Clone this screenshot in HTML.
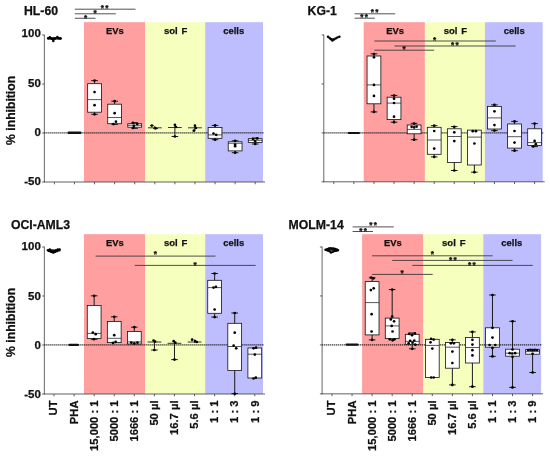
<!DOCTYPE html>
<html lang="en"><head><meta charset="utf-8"><title>% inhibition box plots</title>
<style>html,body{margin:0;padding:0;background:#fff}svg{display:block}text{font-family:"Liberation Sans",sans-serif;fill:#111;stroke:#111;stroke-width:0.25px}</style></head><body>
<svg width="550" height="456" viewBox="0 0 550 456">
<rect width="550" height="456" fill="#fff"/>
<g id="p1">
<rect x="84" y="22.2" width="61.2" height="159.8" fill="#ff9f9f"/>
<rect x="145.2" y="22.2" width="60" height="159.8" fill="#f6ffbd"/>
<rect x="205.2" y="22.2" width="57.8" height="159.8" fill="#bebeff"/>
<text x="114.8" y="34.4" font-size="9.4" font-weight="bold" text-anchor="middle">EVs</text>
<text x="175.7" y="34.4" font-size="9.5" font-weight="bold" text-anchor="middle" word-spacing="1.3">sol F</text>
<text x="233.7" y="34.4" font-size="9.4" font-weight="bold" text-anchor="middle">cells</text>
<line x1="44.35" y1="34.65" x2="44.35" y2="182.35" stroke="#333" stroke-width="0.75"/>
<line x1="44" y1="182" x2="265" y2="182" stroke="#444" stroke-width="0.85"/>
<line x1="42.15" y1="35" x2="44.35" y2="35" stroke="#444" stroke-width="0.85"/>
<line x1="42.15" y1="84" x2="44.35" y2="84" stroke="#444" stroke-width="0.85"/>
<line x1="42.15" y1="133" x2="44.35" y2="133" stroke="#444" stroke-width="0.85"/>
<line x1="42.15" y1="182" x2="44.35" y2="182" stroke="#444" stroke-width="0.85"/>
<line x1="54.4" y1="182" x2="54.4" y2="184.3" stroke="#444" stroke-width="0.85"/>
<line x1="74.48" y1="182" x2="74.48" y2="184.3" stroke="#444" stroke-width="0.85"/>
<line x1="94.56" y1="182" x2="94.56" y2="184.3" stroke="#444" stroke-width="0.85"/>
<line x1="114.64" y1="182" x2="114.64" y2="184.3" stroke="#444" stroke-width="0.85"/>
<line x1="134.72" y1="182" x2="134.72" y2="184.3" stroke="#444" stroke-width="0.85"/>
<line x1="154.8" y1="182" x2="154.8" y2="184.3" stroke="#444" stroke-width="0.85"/>
<line x1="174.88" y1="182" x2="174.88" y2="184.3" stroke="#444" stroke-width="0.85"/>
<line x1="194.96" y1="182" x2="194.96" y2="184.3" stroke="#444" stroke-width="0.85"/>
<line x1="215.04" y1="182" x2="215.04" y2="184.3" stroke="#444" stroke-width="0.85"/>
<line x1="235.12" y1="182" x2="235.12" y2="184.3" stroke="#444" stroke-width="0.85"/>
<line x1="255.2" y1="182" x2="255.2" y2="184.3" stroke="#444" stroke-width="0.85"/>
<line x1="44.35" y1="132.9" x2="264" y2="132.9" stroke="#000" stroke-width="1.25" stroke-opacity="0.28"/>
<line x1="44.35" y1="132.9" x2="264" y2="132.9" stroke="#000" stroke-width="1.25" stroke-opacity="0.62" stroke-dasharray="1 1" stroke-dashoffset="0.1"/>
<text x="24" y="14.8" font-size="12.25" font-weight="bold" text-anchor="start">HL-60</text>
<text x="40.8" y="37.25" font-size="11.5" font-weight="bold" text-anchor="end">100</text>
<text x="40.8" y="87.05" font-size="11.5" font-weight="bold" text-anchor="end">50</text>
<text x="40.8" y="135.85" font-size="11.5" font-weight="bold" text-anchor="end">0</text>
<text x="40.8" y="184.7" font-size="11.5" font-weight="bold" text-anchor="end">-50</text>
<text x="15.1" y="110.4" font-size="12.2" font-weight="bold" text-anchor="middle" transform="rotate(-90 15.1 110.4)">% inhibition</text>
<line x1="74.8" y1="9.2" x2="135.5" y2="9.2" stroke="#333" stroke-width="0.85"/>
<text x="105.35" y="10.99" font-size="8.2" font-weight="bold" text-anchor="middle" letter-spacing="1.3" stroke-width="0.1">**</text>
<line x1="74.8" y1="13.8" x2="115.8" y2="13.8" stroke="#333" stroke-width="0.85"/>
<text x="95.75" y="15.99" font-size="8.2" font-weight="bold" text-anchor="middle" letter-spacing="1.3" stroke-width="0.1">*</text>
<line x1="74.8" y1="18.25" x2="95.5" y2="18.25" stroke="#333" stroke-width="0.85"/>
<text x="86.15" y="20.79" font-size="8.2" font-weight="bold" text-anchor="middle" letter-spacing="1.3" stroke-width="0.1">*</text>
<line x1="47.6" y1="38.4" x2="61.2" y2="38.4" stroke="#111" stroke-width="2.4"/>
<circle cx="48.2" cy="38.2" r="1.25" fill="#000"/>
<circle cx="49.8" cy="37.3" r="1.25" fill="#000"/>
<circle cx="51.5" cy="38.7" r="1.25" fill="#000"/>
<circle cx="53.3" cy="39.6" r="1.25" fill="#000"/>
<circle cx="53.3" cy="40.9" r="1.25" fill="#000"/>
<circle cx="55" cy="38.4" r="1.25" fill="#000"/>
<circle cx="57.4" cy="37.1" r="1.25" fill="#000"/>
<circle cx="59" cy="38.2" r="1.25" fill="#000"/>
<circle cx="60.6" cy="38.5" r="1.25" fill="#000"/>
<line x1="68.7" y1="132.8" x2="80.3" y2="132.8" stroke="#111" stroke-width="2.4" stroke-linecap="round"/>
<line x1="94.56" y1="80.6" x2="94.56" y2="83.7" stroke="#111" stroke-width="0.95"/>
<line x1="91.26" y1="80.6" x2="97.86" y2="80.6" stroke="#111" stroke-width="0.95"/>
<line x1="94.56" y1="112.2" x2="94.56" y2="114.3" stroke="#111" stroke-width="0.95"/>
<line x1="91.26" y1="114.3" x2="97.86" y2="114.3" stroke="#111" stroke-width="0.95"/>
<rect x="87.66" y="83.7" width="13.8" height="28.5" fill="#fff" stroke="#111" stroke-width="0.8"/>
<line x1="87.66" y1="99.6" x2="101.46" y2="99.6" stroke="#222" stroke-width="0.75"/>
<circle cx="94.56" cy="80.6" r="1.35" fill="#000"/>
<circle cx="94.56" cy="92.1" r="1.35" fill="#000"/>
<circle cx="94.56" cy="105.2" r="1.35" fill="#000"/>
<circle cx="94.56" cy="114.3" r="1.35" fill="#000"/>
<line x1="114.64" y1="101.2" x2="114.64" y2="104.2" stroke="#111" stroke-width="0.95"/>
<line x1="111.34" y1="101.2" x2="117.94" y2="101.2" stroke="#111" stroke-width="0.95"/>
<line x1="114.64" y1="123.7" x2="114.64" y2="124.4" stroke="#111" stroke-width="0.95"/>
<line x1="111.34" y1="124.4" x2="117.94" y2="124.4" stroke="#111" stroke-width="0.95"/>
<rect x="107.74" y="104.2" width="13.8" height="19.5" fill="#fff" stroke="#111" stroke-width="0.8"/>
<line x1="107.74" y1="117.5" x2="121.54" y2="117.5" stroke="#222" stroke-width="0.75"/>
<circle cx="114.64" cy="101.2" r="1.35" fill="#000"/>
<circle cx="114.64" cy="113.2" r="1.35" fill="#000"/>
<circle cx="115.94" cy="121.7" r="1.35" fill="#000"/>
<circle cx="113.44" cy="124.1" r="1.35" fill="#000"/>
<line x1="134.72" y1="122.7" x2="134.72" y2="123.7" stroke="#111" stroke-width="0.95"/>
<line x1="131.42" y1="122.7" x2="138.02" y2="122.7" stroke="#111" stroke-width="0.95"/>
<line x1="134.72" y1="127.2" x2="134.72" y2="128.3" stroke="#111" stroke-width="0.95"/>
<line x1="131.42" y1="128.3" x2="138.02" y2="128.3" stroke="#111" stroke-width="0.95"/>
<rect x="127.82" y="123.7" width="13.8" height="3.5" fill="#fff" stroke="#111" stroke-width="0.8"/>
<line x1="127.82" y1="125.3" x2="141.62" y2="125.3" stroke="#222" stroke-width="0.75"/>
<circle cx="133.02" cy="122.9" r="1.35" fill="#000"/>
<circle cx="137.22" cy="124.1" r="1.35" fill="#000"/>
<circle cx="133.92" cy="125.8" r="1.35" fill="#000"/>
<circle cx="133.02" cy="128" r="1.35" fill="#000"/>
<line x1="147.9" y1="127.8" x2="161.7" y2="127.8" stroke="#222" stroke-width="0.9"/>
<line x1="154.8" y1="126" x2="154.8" y2="128.4" stroke="#111" stroke-width="0.95"/>
<circle cx="151.8" cy="125.6" r="1.35" fill="#000"/>
<circle cx="155.5" cy="128.4" r="1.35" fill="#000"/>
<line x1="150.2" y1="125.6" x2="153.8" y2="125.6" stroke="#111" stroke-width="0.95"/>
<line x1="153.2" y1="128.5" x2="158" y2="128.5" stroke="#111" stroke-width="0.95"/>
<line x1="167.98" y1="127.5" x2="181.78" y2="127.5" stroke="#222" stroke-width="0.9"/>
<line x1="174.88" y1="124.8" x2="174.88" y2="136.5" stroke="#111" stroke-width="0.95"/>
<line x1="171.58" y1="136.5" x2="178.18" y2="136.5" stroke="#111" stroke-width="0.95"/>
<circle cx="174.88" cy="124.8" r="1.35" fill="#000"/>
<circle cx="175.98" cy="127" r="1.35" fill="#000"/>
<circle cx="174.88" cy="136.5" r="1.35" fill="#000"/>
<line x1="188.06" y1="127.8" x2="201.86" y2="127.8" stroke="#222" stroke-width="0.9"/>
<line x1="194.96" y1="125.5" x2="194.96" y2="131" stroke="#111" stroke-width="0.95"/>
<circle cx="194.96" cy="125.7" r="1.35" fill="#000"/>
<circle cx="195.86" cy="128" r="1.35" fill="#000"/>
<circle cx="193.86" cy="130.7" r="1.35" fill="#000"/>
<line x1="215.04" y1="125.4" x2="215.04" y2="127.5" stroke="#111" stroke-width="0.95"/>
<line x1="211.74" y1="125.4" x2="218.34" y2="125.4" stroke="#111" stroke-width="0.95"/>
<line x1="215.04" y1="138.3" x2="215.04" y2="139.7" stroke="#111" stroke-width="0.95"/>
<line x1="211.74" y1="139.7" x2="218.34" y2="139.7" stroke="#111" stroke-width="0.95"/>
<rect x="208.14" y="127.5" width="13.8" height="10.8" fill="#fff" stroke="#111" stroke-width="0.8"/>
<line x1="208.14" y1="134.9" x2="221.94" y2="134.9" stroke="#222" stroke-width="0.75"/>
<circle cx="215.04" cy="125.4" r="1.35" fill="#000"/>
<circle cx="213.54" cy="133.5" r="1.35" fill="#000"/>
<circle cx="216.24" cy="134.8" r="1.35" fill="#000"/>
<circle cx="215.04" cy="139.7" r="1.35" fill="#000"/>
<line x1="235.12" y1="140.8" x2="235.12" y2="141.8" stroke="#111" stroke-width="0.95"/>
<line x1="231.82" y1="140.8" x2="238.42" y2="140.8" stroke="#111" stroke-width="0.95"/>
<line x1="235.12" y1="150.9" x2="235.12" y2="152.7" stroke="#111" stroke-width="0.95"/>
<line x1="231.82" y1="152.7" x2="238.42" y2="152.7" stroke="#111" stroke-width="0.95"/>
<rect x="228.22" y="141.8" width="13.8" height="9.1" fill="#fff" stroke="#111" stroke-width="0.8"/>
<line x1="228.22" y1="143.3" x2="242.02" y2="143.3" stroke="#222" stroke-width="0.75"/>
<circle cx="235.12" cy="140.8" r="1.35" fill="#000"/>
<circle cx="235.12" cy="144.6" r="1.35" fill="#000"/>
<circle cx="235.12" cy="146.2" r="1.35" fill="#000"/>
<circle cx="235.12" cy="152.7" r="1.35" fill="#000"/>
<line x1="255.2" y1="138" x2="255.2" y2="138.7" stroke="#111" stroke-width="0.95"/>
<line x1="251.9" y1="138" x2="258.5" y2="138" stroke="#111" stroke-width="0.95"/>
<line x1="255.2" y1="142.6" x2="255.2" y2="144" stroke="#111" stroke-width="0.95"/>
<line x1="251.9" y1="144" x2="258.5" y2="144" stroke="#111" stroke-width="0.95"/>
<rect x="248.3" y="138.7" width="13.8" height="3.9" fill="#fff" stroke="#111" stroke-width="0.8"/>
<line x1="248.3" y1="140.3" x2="262.1" y2="140.3" stroke="#222" stroke-width="0.75"/>
<circle cx="253.1" cy="139.1" r="1.35" fill="#000"/>
<circle cx="257.3" cy="138.4" r="1.35" fill="#000"/>
<circle cx="255.2" cy="141.2" r="1.35" fill="#000"/>
<circle cx="255.2" cy="144" r="1.35" fill="#000"/>
</g>
<g id="p2">
<rect x="363.7" y="22.2" width="61.2" height="159.6" fill="#ff9f9f"/>
<rect x="424.9" y="22.2" width="60" height="159.6" fill="#f6ffbd"/>
<rect x="484.9" y="22.2" width="57.8" height="159.6" fill="#bebeff"/>
<text x="395.1" y="34.4" font-size="9.4" font-weight="bold" text-anchor="middle">EVs</text>
<text x="455.4" y="34.4" font-size="9.5" font-weight="bold" text-anchor="middle" word-spacing="1.3">sol F</text>
<text x="514.2" y="34.4" font-size="9.4" font-weight="bold" text-anchor="middle">cells</text>
<line x1="323.8" y1="34.65" x2="323.8" y2="182.15" stroke="#333" stroke-width="0.75"/>
<line x1="323.45" y1="181.8" x2="544.7" y2="181.8" stroke="#444" stroke-width="0.85"/>
<line x1="321.6" y1="35" x2="323.8" y2="35" stroke="#444" stroke-width="0.85"/>
<line x1="321.6" y1="83.93" x2="323.8" y2="83.93" stroke="#444" stroke-width="0.85"/>
<line x1="321.6" y1="132.87" x2="323.8" y2="132.87" stroke="#444" stroke-width="0.85"/>
<line x1="321.6" y1="181.8" x2="323.8" y2="181.8" stroke="#444" stroke-width="0.85"/>
<line x1="333.8" y1="181.8" x2="333.8" y2="184.1" stroke="#444" stroke-width="0.85"/>
<line x1="353.88" y1="181.8" x2="353.88" y2="184.1" stroke="#444" stroke-width="0.85"/>
<line x1="373.96" y1="181.8" x2="373.96" y2="184.1" stroke="#444" stroke-width="0.85"/>
<line x1="394.04" y1="181.8" x2="394.04" y2="184.1" stroke="#444" stroke-width="0.85"/>
<line x1="414.12" y1="181.8" x2="414.12" y2="184.1" stroke="#444" stroke-width="0.85"/>
<line x1="434.2" y1="181.8" x2="434.2" y2="184.1" stroke="#444" stroke-width="0.85"/>
<line x1="454.28" y1="181.8" x2="454.28" y2="184.1" stroke="#444" stroke-width="0.85"/>
<line x1="474.36" y1="181.8" x2="474.36" y2="184.1" stroke="#444" stroke-width="0.85"/>
<line x1="494.44" y1="181.8" x2="494.44" y2="184.1" stroke="#444" stroke-width="0.85"/>
<line x1="514.52" y1="181.8" x2="514.52" y2="184.1" stroke="#444" stroke-width="0.85"/>
<line x1="534.6" y1="181.8" x2="534.6" y2="184.1" stroke="#444" stroke-width="0.85"/>
<line x1="323.8" y1="132.9" x2="543.7" y2="132.9" stroke="#000" stroke-width="1.25" stroke-opacity="0.28"/>
<line x1="323.8" y1="132.9" x2="543.7" y2="132.9" stroke="#000" stroke-width="1.25" stroke-opacity="0.62" stroke-dasharray="1 1" stroke-dashoffset="0.1"/>
<text x="307.6" y="14.8" font-size="12.25" font-weight="bold" text-anchor="start">KG-1</text>
<line x1="354.6" y1="13.8" x2="395.2" y2="13.8" stroke="#333" stroke-width="0.85"/>
<text x="375.35" y="15.49" font-size="8.2" font-weight="bold" text-anchor="middle" letter-spacing="1.3" stroke-width="0.1">**</text>
<line x1="354.6" y1="18.2" x2="374.8" y2="18.2" stroke="#333" stroke-width="0.85"/>
<text x="364.75" y="19.89" font-size="8.2" font-weight="bold" text-anchor="middle" letter-spacing="1.3" stroke-width="0.1">**</text>
<line x1="374.3" y1="41" x2="495.8" y2="41" stroke="#333" stroke-width="0.85"/>
<text x="435.35" y="42.79" font-size="8.2" font-weight="bold" text-anchor="middle" letter-spacing="1.3" stroke-width="0.1">*</text>
<line x1="394.5" y1="46" x2="515.6" y2="46" stroke="#333" stroke-width="0.85"/>
<text x="455.55" y="47.79" font-size="8.2" font-weight="bold" text-anchor="middle" letter-spacing="1.3" stroke-width="0.1">**</text>
<line x1="374.3" y1="50.2" x2="434.2" y2="50.2" stroke="#333" stroke-width="0.85"/>
<text x="404.65" y="52.49" font-size="8.2" font-weight="bold" text-anchor="middle" letter-spacing="1.3" stroke-width="0.1">*</text>
<line x1="330.8" y1="38.6" x2="334.2" y2="38.6" stroke="#111" stroke-width="0.8"/>
<circle cx="328" cy="36.7" r="1.25" fill="#000"/>
<circle cx="329.6" cy="37.9" r="1.25" fill="#000"/>
<circle cx="331" cy="39.2" r="1.25" fill="#000"/>
<circle cx="332.4" cy="40.6" r="1.25" fill="#000"/>
<circle cx="333.9" cy="39.6" r="1.25" fill="#000"/>
<circle cx="335.6" cy="38.6" r="1.25" fill="#000"/>
<circle cx="337.4" cy="37.6" r="1.25" fill="#000"/>
<circle cx="339.4" cy="36.7" r="1.25" fill="#000"/>
<line x1="348.7" y1="133" x2="358.9" y2="133" stroke="#111" stroke-width="2.2" stroke-linecap="round"/>
<line x1="373.96" y1="53.8" x2="373.96" y2="56" stroke="#111" stroke-width="0.95"/>
<line x1="370.66" y1="53.8" x2="377.26" y2="53.8" stroke="#111" stroke-width="0.95"/>
<line x1="373.96" y1="103.8" x2="373.96" y2="111.9" stroke="#111" stroke-width="0.95"/>
<line x1="370.66" y1="111.9" x2="377.26" y2="111.9" stroke="#111" stroke-width="0.95"/>
<rect x="367.06" y="56" width="13.8" height="47.8" fill="#fff" stroke="#111" stroke-width="0.8"/>
<line x1="367.06" y1="84.9" x2="380.86" y2="84.9" stroke="#222" stroke-width="0.75"/>
<circle cx="373.96" cy="54" r="1.35" fill="#000"/>
<circle cx="373.96" cy="57.3" r="1.35" fill="#000"/>
<circle cx="373.96" cy="84.9" r="1.35" fill="#000"/>
<circle cx="373.96" cy="95.9" r="1.35" fill="#000"/>
<circle cx="373.96" cy="111.9" r="1.35" fill="#000"/>
<line x1="394.04" y1="95.4" x2="394.04" y2="97.2" stroke="#111" stroke-width="0.95"/>
<line x1="390.74" y1="95.4" x2="397.34" y2="95.4" stroke="#111" stroke-width="0.95"/>
<line x1="394.04" y1="119.6" x2="394.04" y2="122.2" stroke="#111" stroke-width="0.95"/>
<line x1="390.74" y1="122.2" x2="397.34" y2="122.2" stroke="#111" stroke-width="0.95"/>
<rect x="387.14" y="97.2" width="13.8" height="22.4" fill="#fff" stroke="#111" stroke-width="0.8"/>
<line x1="387.14" y1="103.1" x2="400.94" y2="103.1" stroke="#222" stroke-width="0.75"/>
<circle cx="394.04" cy="95.5" r="1.35" fill="#000"/>
<circle cx="394.04" cy="98.7" r="1.35" fill="#000"/>
<circle cx="394.04" cy="103" r="1.35" fill="#000"/>
<circle cx="394.04" cy="116.7" r="1.35" fill="#000"/>
<circle cx="394.04" cy="122.2" r="1.35" fill="#000"/>
<line x1="414.12" y1="123.3" x2="414.12" y2="125" stroke="#111" stroke-width="0.95"/>
<line x1="410.82" y1="123.3" x2="417.42" y2="123.3" stroke="#111" stroke-width="0.95"/>
<line x1="414.12" y1="133.8" x2="414.12" y2="139.7" stroke="#111" stroke-width="0.95"/>
<line x1="410.82" y1="139.7" x2="417.42" y2="139.7" stroke="#111" stroke-width="0.95"/>
<rect x="407.22" y="125" width="13.8" height="8.8" fill="#fff" stroke="#111" stroke-width="0.8"/>
<line x1="407.22" y1="129.4" x2="421.02" y2="129.4" stroke="#222" stroke-width="0.75"/>
<circle cx="414.12" cy="123.5" r="1.35" fill="#000"/>
<circle cx="411.62" cy="126.8" r="1.35" fill="#000"/>
<circle cx="414.12" cy="127.4" r="1.35" fill="#000"/>
<circle cx="416.62" cy="126.6" r="1.35" fill="#000"/>
<circle cx="414.12" cy="139.7" r="1.35" fill="#000"/>
<line x1="434.2" y1="125.7" x2="434.2" y2="127.3" stroke="#111" stroke-width="0.95"/>
<line x1="430.9" y1="125.7" x2="437.5" y2="125.7" stroke="#111" stroke-width="0.95"/>
<line x1="434.2" y1="154.3" x2="434.2" y2="156.9" stroke="#111" stroke-width="0.95"/>
<line x1="430.9" y1="156.9" x2="437.5" y2="156.9" stroke="#111" stroke-width="0.95"/>
<rect x="427.3" y="127.3" width="13.8" height="27" fill="#fff" stroke="#111" stroke-width="0.8"/>
<line x1="427.3" y1="140" x2="441.1" y2="140" stroke="#222" stroke-width="0.75"/>
<circle cx="434.2" cy="125.7" r="1.35" fill="#000"/>
<circle cx="434.2" cy="131" r="1.35" fill="#000"/>
<circle cx="434.2" cy="148.6" r="1.35" fill="#000"/>
<circle cx="434.2" cy="156.9" r="1.35" fill="#000"/>
<line x1="454.28" y1="126.6" x2="454.28" y2="128.8" stroke="#111" stroke-width="0.95"/>
<line x1="450.98" y1="126.6" x2="457.58" y2="126.6" stroke="#111" stroke-width="0.95"/>
<line x1="454.28" y1="162.4" x2="454.28" y2="170.5" stroke="#111" stroke-width="0.95"/>
<line x1="450.98" y1="170.5" x2="457.58" y2="170.5" stroke="#111" stroke-width="0.95"/>
<rect x="447.38" y="128.8" width="13.8" height="33.6" fill="#fff" stroke="#111" stroke-width="0.8"/>
<line x1="447.38" y1="136.5" x2="461.18" y2="136.5" stroke="#222" stroke-width="0.75"/>
<circle cx="454.28" cy="126.8" r="1.35" fill="#000"/>
<circle cx="454.28" cy="132.3" r="1.35" fill="#000"/>
<circle cx="454.28" cy="141.1" r="1.35" fill="#000"/>
<circle cx="454.28" cy="170.5" r="1.35" fill="#000"/>
<line x1="474.36" y1="165" x2="474.36" y2="172.2" stroke="#111" stroke-width="0.95"/>
<line x1="471.06" y1="172.2" x2="477.66" y2="172.2" stroke="#111" stroke-width="0.95"/>
<rect x="467.46" y="130.1" width="13.8" height="34.9" fill="#fff" stroke="#111" stroke-width="0.8"/>
<line x1="467.46" y1="137.1" x2="481.26" y2="137.1" stroke="#222" stroke-width="0.75"/>
<circle cx="472.76" cy="131.2" r="1.35" fill="#000"/>
<circle cx="475.96" cy="131.2" r="1.35" fill="#000"/>
<circle cx="474.36" cy="143.5" r="1.35" fill="#000"/>
<circle cx="474.36" cy="172.2" r="1.35" fill="#000"/>
<line x1="494.44" y1="104.9" x2="494.44" y2="106.4" stroke="#111" stroke-width="0.95"/>
<line x1="491.14" y1="104.9" x2="497.74" y2="104.9" stroke="#111" stroke-width="0.95"/>
<line x1="494.44" y1="129" x2="494.44" y2="130.6" stroke="#111" stroke-width="0.95"/>
<line x1="491.14" y1="130.6" x2="497.74" y2="130.6" stroke="#111" stroke-width="0.95"/>
<rect x="487.54" y="106.4" width="13.8" height="22.6" fill="#fff" stroke="#111" stroke-width="0.8"/>
<line x1="487.54" y1="117.9" x2="501.34" y2="117.9" stroke="#222" stroke-width="0.75"/>
<circle cx="494.44" cy="104.9" r="1.35" fill="#000"/>
<circle cx="494.44" cy="111.3" r="1.35" fill="#000"/>
<circle cx="494.44" cy="125.1" r="1.35" fill="#000"/>
<circle cx="494.44" cy="130.6" r="1.35" fill="#000"/>
<line x1="514.52" y1="121.4" x2="514.52" y2="124" stroke="#111" stroke-width="0.95"/>
<line x1="511.22" y1="121.4" x2="517.82" y2="121.4" stroke="#111" stroke-width="0.95"/>
<line x1="514.52" y1="148.1" x2="514.52" y2="150.7" stroke="#111" stroke-width="0.95"/>
<line x1="511.22" y1="150.7" x2="517.82" y2="150.7" stroke="#111" stroke-width="0.95"/>
<rect x="507.62" y="124" width="13.8" height="24.1" fill="#fff" stroke="#111" stroke-width="0.8"/>
<line x1="507.62" y1="136.7" x2="521.42" y2="136.7" stroke="#222" stroke-width="0.75"/>
<circle cx="514.52" cy="121.4" r="1.35" fill="#000"/>
<circle cx="514.52" cy="131" r="1.35" fill="#000"/>
<circle cx="514.52" cy="142.6" r="1.35" fill="#000"/>
<circle cx="514.52" cy="150.7" r="1.35" fill="#000"/>
<line x1="534.6" y1="123.6" x2="534.6" y2="128.8" stroke="#111" stroke-width="0.95"/>
<line x1="531.3" y1="123.6" x2="537.9" y2="123.6" stroke="#111" stroke-width="0.95"/>
<line x1="534.6" y1="145.5" x2="534.6" y2="146.6" stroke="#111" stroke-width="0.95"/>
<line x1="531.3" y1="146.6" x2="537.9" y2="146.6" stroke="#111" stroke-width="0.95"/>
<rect x="527.7" y="128.8" width="13.8" height="16.7" fill="#fff" stroke="#111" stroke-width="0.8"/>
<line x1="527.7" y1="142.6" x2="541.5" y2="142.6" stroke="#222" stroke-width="0.75"/>
<circle cx="534.6" cy="123.6" r="1.35" fill="#000"/>
<circle cx="534.6" cy="140.9" r="1.35" fill="#000"/>
<circle cx="535.8" cy="144.2" r="1.35" fill="#000"/>
<circle cx="533.1" cy="146.4" r="1.35" fill="#000"/>
</g>
<g id="p3">
<rect x="84" y="234.2" width="61.2" height="159.8" fill="#ff9f9f"/>
<rect x="145.2" y="234.2" width="60" height="159.8" fill="#f6ffbd"/>
<rect x="205.2" y="234.2" width="57.8" height="159.8" fill="#bebeff"/>
<text x="114.8" y="246.4" font-size="9.4" font-weight="bold" text-anchor="middle">EVs</text>
<text x="175.7" y="246.4" font-size="9.5" font-weight="bold" text-anchor="middle" word-spacing="1.3">sol F</text>
<text x="233.7" y="246.4" font-size="9.4" font-weight="bold" text-anchor="middle">cells</text>
<line x1="44.35" y1="246.65" x2="44.35" y2="394.35" stroke="#333" stroke-width="0.75"/>
<line x1="44" y1="394" x2="265" y2="394" stroke="#444" stroke-width="0.85"/>
<line x1="42.15" y1="247" x2="44.35" y2="247" stroke="#444" stroke-width="0.85"/>
<line x1="42.15" y1="296" x2="44.35" y2="296" stroke="#444" stroke-width="0.85"/>
<line x1="42.15" y1="345" x2="44.35" y2="345" stroke="#444" stroke-width="0.85"/>
<line x1="42.15" y1="394" x2="44.35" y2="394" stroke="#444" stroke-width="0.85"/>
<line x1="54" y1="394" x2="54" y2="396.3" stroke="#444" stroke-width="0.85"/>
<line x1="74.08" y1="394" x2="74.08" y2="396.3" stroke="#444" stroke-width="0.85"/>
<line x1="94.16" y1="394" x2="94.16" y2="396.3" stroke="#444" stroke-width="0.85"/>
<line x1="114.24" y1="394" x2="114.24" y2="396.3" stroke="#444" stroke-width="0.85"/>
<line x1="134.32" y1="394" x2="134.32" y2="396.3" stroke="#444" stroke-width="0.85"/>
<line x1="154.4" y1="394" x2="154.4" y2="396.3" stroke="#444" stroke-width="0.85"/>
<line x1="174.48" y1="394" x2="174.48" y2="396.3" stroke="#444" stroke-width="0.85"/>
<line x1="194.56" y1="394" x2="194.56" y2="396.3" stroke="#444" stroke-width="0.85"/>
<line x1="214.64" y1="394" x2="214.64" y2="396.3" stroke="#444" stroke-width="0.85"/>
<line x1="234.72" y1="394" x2="234.72" y2="396.3" stroke="#444" stroke-width="0.85"/>
<line x1="254.8" y1="394" x2="254.8" y2="396.3" stroke="#444" stroke-width="0.85"/>
<line x1="44.35" y1="344.9" x2="264" y2="344.9" stroke="#000" stroke-width="1.25" stroke-opacity="0.28"/>
<line x1="44.35" y1="344.9" x2="264" y2="344.9" stroke="#000" stroke-width="1.25" stroke-opacity="0.62" stroke-dasharray="1 1" stroke-dashoffset="0.1"/>
<text x="10.9" y="228.6" font-size="12.25" font-weight="bold" text-anchor="start">OCI-AML3</text>
<text x="40.8" y="250.15" font-size="11.5" font-weight="bold" text-anchor="end">100</text>
<text x="40.8" y="299.85" font-size="11.5" font-weight="bold" text-anchor="end">50</text>
<text x="40.8" y="348.55" font-size="11.5" font-weight="bold" text-anchor="end">0</text>
<text x="40.8" y="398.25" font-size="11.5" font-weight="bold" text-anchor="end">-50</text>
<text x="15.1" y="322.4" font-size="12.2" font-weight="bold" text-anchor="middle" transform="rotate(-90 15.1 322.4)">% inhibition</text>
<text x="56.9" y="400.5" font-size="11.2" font-weight="bold" text-anchor="end" transform="rotate(-90 56.9 400.5)">UT</text>
<text x="77.78" y="400.5" font-size="11.2" font-weight="bold" text-anchor="end" transform="rotate(-90 77.78 400.5)">PHA</text>
<text x="97.86" y="400.5" font-size="11.2" font-weight="bold" text-anchor="end" transform="rotate(-90 97.86 400.5)">15,000 : 1</text>
<text x="117.94" y="400.5" font-size="11.2" font-weight="bold" text-anchor="end" transform="rotate(-90 117.94 400.5)">5000 : 1</text>
<text x="138.02" y="400.5" font-size="11.2" font-weight="bold" text-anchor="end" transform="rotate(-90 138.02 400.5)">1666 : 1</text>
<text x="158.1" y="400.5" font-size="11.2" font-weight="bold" text-anchor="end" transform="rotate(-90 158.1 400.5)">50 µl</text>
<text x="178.18" y="400.5" font-size="11.2" font-weight="bold" text-anchor="end" transform="rotate(-90 178.18 400.5)">16.7 µl</text>
<text x="198.26" y="400.5" font-size="11.2" font-weight="bold" text-anchor="end" transform="rotate(-90 198.26 400.5)">5.6 µl</text>
<text x="218.34" y="400.5" font-size="11.2" font-weight="bold" text-anchor="end" transform="rotate(-90 218.34 400.5)">1 : 1</text>
<text x="238.42" y="400.5" font-size="11.2" font-weight="bold" text-anchor="end" transform="rotate(-90 238.42 400.5)">1 : 3</text>
<text x="258.5" y="400.5" font-size="11.2" font-weight="bold" text-anchor="end" transform="rotate(-90 258.5 400.5)">1 : 9</text>
<line x1="95.6" y1="256.1" x2="215.5" y2="256.1" stroke="#333" stroke-width="0.85"/>
<text x="155.95" y="257.19" font-size="8.2" font-weight="bold" text-anchor="middle" letter-spacing="1.3" stroke-width="0.1">*</text>
<line x1="134.7" y1="265.4" x2="255.7" y2="265.4" stroke="#333" stroke-width="0.85"/>
<text x="195.75" y="267.99" font-size="8.2" font-weight="bold" text-anchor="middle" letter-spacing="1.3" stroke-width="0.1">*</text>
<line x1="47.6" y1="250.4" x2="60.4" y2="250.4" stroke="#111" stroke-width="2.0"/>
<circle cx="48" cy="250.2" r="1.25" fill="#000"/>
<circle cx="49.8" cy="249.6" r="1.25" fill="#000"/>
<circle cx="51.2" cy="250.8" r="1.25" fill="#000"/>
<circle cx="52.6" cy="252.2" r="1.25" fill="#000"/>
<circle cx="54.2" cy="251.4" r="1.25" fill="#000"/>
<circle cx="56" cy="250.4" r="1.25" fill="#000"/>
<circle cx="57.8" cy="249.6" r="1.25" fill="#000"/>
<circle cx="59.6" cy="249.6" r="1.25" fill="#000"/>
<circle cx="49.2" cy="251" r="1.25" fill="#000"/>
<circle cx="51" cy="251.8" r="1.25" fill="#000"/>
<circle cx="53.6" cy="252.6" r="1.25" fill="#000"/>
<circle cx="55.4" cy="251.8" r="1.25" fill="#000"/>
<circle cx="57.4" cy="250.9" r="1.25" fill="#000"/>
<line x1="69.55" y1="344.9" x2="77.95" y2="344.9" stroke="#111" stroke-width="2.2" stroke-linecap="round"/>
<line x1="94.16" y1="295.8" x2="94.16" y2="305.4" stroke="#111" stroke-width="0.95"/>
<line x1="90.86" y1="295.8" x2="97.46" y2="295.8" stroke="#111" stroke-width="0.95"/>
<line x1="94.16" y1="338.5" x2="94.16" y2="339.3" stroke="#111" stroke-width="0.95"/>
<line x1="90.86" y1="339.3" x2="97.46" y2="339.3" stroke="#111" stroke-width="0.95"/>
<rect x="87.26" y="305.4" width="13.8" height="33.1" fill="#fff" stroke="#111" stroke-width="0.8"/>
<line x1="87.26" y1="333.4" x2="101.06" y2="333.4" stroke="#222" stroke-width="0.75"/>
<circle cx="94.16" cy="295.8" r="1.35" fill="#000"/>
<circle cx="92.86" cy="332.6" r="1.35" fill="#000"/>
<circle cx="95.66" cy="334.2" r="1.35" fill="#000"/>
<circle cx="93.86" cy="339.2" r="1.35" fill="#000"/>
<line x1="114.24" y1="316.8" x2="114.24" y2="321.4" stroke="#111" stroke-width="0.95"/>
<line x1="110.94" y1="316.8" x2="117.54" y2="316.8" stroke="#111" stroke-width="0.95"/>
<rect x="107.34" y="321.4" width="13.8" height="21.2" fill="#fff" stroke="#111" stroke-width="0.8"/>
<line x1="107.34" y1="338.3" x2="121.14" y2="338.3" stroke="#222" stroke-width="0.75"/>
<circle cx="114.24" cy="316.8" r="1.35" fill="#000"/>
<circle cx="114.24" cy="335.2" r="1.35" fill="#000"/>
<circle cx="115.64" cy="341.8" r="1.35" fill="#000"/>
<circle cx="113.04" cy="342.9" r="1.35" fill="#000"/>
<line x1="134.32" y1="327.2" x2="134.32" y2="331.5" stroke="#111" stroke-width="0.95"/>
<line x1="131.02" y1="327.2" x2="137.62" y2="327.2" stroke="#111" stroke-width="0.95"/>
<rect x="127.42" y="331.5" width="13.8" height="12.5" fill="#fff" stroke="#111" stroke-width="0.8"/>
<line x1="127.42" y1="341.9" x2="141.22" y2="341.9" stroke="#222" stroke-width="0.75"/>
<circle cx="134.32" cy="327.2" r="1.35" fill="#000"/>
<circle cx="131.32" cy="342.6" r="1.35" fill="#000"/>
<circle cx="134.32" cy="343.4" r="1.35" fill="#000"/>
<circle cx="137.42" cy="342.6" r="1.35" fill="#000"/>
<line x1="147.5" y1="342" x2="161.3" y2="342" stroke="#222" stroke-width="0.9"/>
<line x1="154.4" y1="340.3" x2="154.4" y2="350" stroke="#111" stroke-width="0.95"/>
<line x1="151.1" y1="350" x2="157.7" y2="350" stroke="#111" stroke-width="0.95"/>
<circle cx="153.6" cy="340.5" r="1.35" fill="#000"/>
<circle cx="155.1" cy="341.6" r="1.35" fill="#000"/>
<circle cx="154.4" cy="350" r="1.35" fill="#000"/>
<line x1="167.58" y1="343.3" x2="181.38" y2="343.3" stroke="#222" stroke-width="0.9"/>
<line x1="174.48" y1="341.2" x2="174.48" y2="359.6" stroke="#111" stroke-width="0.95"/>
<line x1="171.18" y1="359.6" x2="177.78" y2="359.6" stroke="#111" stroke-width="0.95"/>
<circle cx="173.68" cy="341.2" r="1.35" fill="#000"/>
<circle cx="175.28" cy="342.6" r="1.35" fill="#000"/>
<circle cx="174.48" cy="359.6" r="1.35" fill="#000"/>
<line x1="187.66" y1="342" x2="201.46" y2="342" stroke="#222" stroke-width="0.9"/>
<line x1="194.56" y1="339.6" x2="194.56" y2="343" stroke="#111" stroke-width="0.95"/>
<circle cx="192.16" cy="339.7" r="1.35" fill="#000"/>
<circle cx="195.16" cy="341" r="1.35" fill="#000"/>
<circle cx="196.76" cy="342" r="1.35" fill="#000"/>
<line x1="214.64" y1="273.5" x2="214.64" y2="280.3" stroke="#111" stroke-width="0.95"/>
<line x1="211.34" y1="273.5" x2="217.94" y2="273.5" stroke="#111" stroke-width="0.95"/>
<line x1="214.64" y1="313.3" x2="214.64" y2="317.1" stroke="#111" stroke-width="0.95"/>
<line x1="211.34" y1="317.1" x2="217.94" y2="317.1" stroke="#111" stroke-width="0.95"/>
<rect x="207.74" y="280.3" width="13.8" height="33" fill="#fff" stroke="#111" stroke-width="0.8"/>
<line x1="207.74" y1="287.6" x2="221.54" y2="287.6" stroke="#222" stroke-width="0.75"/>
<circle cx="214.64" cy="273.5" r="1.35" fill="#000"/>
<circle cx="213.54" cy="287.6" r="1.35" fill="#000"/>
<circle cx="215.94" cy="286.9" r="1.35" fill="#000"/>
<circle cx="214.64" cy="309.5" r="1.35" fill="#000"/>
<circle cx="214.64" cy="317.1" r="1.35" fill="#000"/>
<line x1="234.72" y1="313" x2="234.72" y2="323.3" stroke="#111" stroke-width="0.95"/>
<line x1="231.42" y1="313" x2="238.02" y2="313" stroke="#111" stroke-width="0.95"/>
<line x1="234.72" y1="370.6" x2="234.72" y2="393.6" stroke="#111" stroke-width="0.95"/>
<line x1="231.42" y1="393.6" x2="238.02" y2="393.6" stroke="#111" stroke-width="0.95"/>
<rect x="227.82" y="323.3" width="13.8" height="47.3" fill="#fff" stroke="#111" stroke-width="0.8"/>
<line x1="227.82" y1="346.5" x2="241.62" y2="346.5" stroke="#222" stroke-width="0.75"/>
<circle cx="234.72" cy="313" r="1.35" fill="#000"/>
<circle cx="234.72" cy="332.7" r="1.35" fill="#000"/>
<circle cx="233.62" cy="345.7" r="1.35" fill="#000"/>
<circle cx="236.22" cy="348.3" r="1.35" fill="#000"/>
<circle cx="234.72" cy="393.8" r="1.35" fill="#000"/>
<rect x="247.9" y="348" width="13.8" height="30" fill="#fff" stroke="#111" stroke-width="0.8"/>
<line x1="247.9" y1="354.2" x2="261.7" y2="354.2" stroke="#222" stroke-width="0.75"/>
<circle cx="253.5" cy="348.3" r="1.35" fill="#000"/>
<circle cx="256" cy="347.7" r="1.35" fill="#000"/>
<circle cx="254.8" cy="354.6" r="1.35" fill="#000"/>
<circle cx="253.5" cy="378.5" r="1.35" fill="#000"/>
<circle cx="255.8" cy="377.7" r="1.35" fill="#000"/>
</g>
<g id="p4">
<rect x="362.1" y="234.2" width="61.2" height="159.65" fill="#ff9f9f"/>
<rect x="423.3" y="234.2" width="60" height="159.65" fill="#f6ffbd"/>
<rect x="483.3" y="234.2" width="57.8" height="159.65" fill="#bebeff"/>
<text x="392.9" y="246.4" font-size="9.4" font-weight="bold" text-anchor="middle">EVs</text>
<text x="453.8" y="246.4" font-size="9.5" font-weight="bold" text-anchor="middle" word-spacing="1.3">sol F</text>
<text x="511.8" y="246.4" font-size="9.4" font-weight="bold" text-anchor="middle">cells</text>
<line x1="322.1" y1="246.65" x2="322.1" y2="394.2" stroke="#333" stroke-width="0.75"/>
<line x1="321.75" y1="393.85" x2="543.1" y2="393.85" stroke="#444" stroke-width="0.85"/>
<line x1="319.9" y1="247" x2="322.1" y2="247" stroke="#444" stroke-width="0.85"/>
<line x1="319.9" y1="295.95" x2="322.1" y2="295.95" stroke="#444" stroke-width="0.85"/>
<line x1="319.9" y1="344.9" x2="322.1" y2="344.9" stroke="#444" stroke-width="0.85"/>
<line x1="319.9" y1="393.85" x2="322.1" y2="393.85" stroke="#444" stroke-width="0.85"/>
<line x1="332" y1="393.85" x2="332" y2="396.15" stroke="#444" stroke-width="0.85"/>
<line x1="352.06" y1="393.85" x2="352.06" y2="396.15" stroke="#444" stroke-width="0.85"/>
<line x1="372.12" y1="393.85" x2="372.12" y2="396.15" stroke="#444" stroke-width="0.85"/>
<line x1="392.18" y1="393.85" x2="392.18" y2="396.15" stroke="#444" stroke-width="0.85"/>
<line x1="412.24" y1="393.85" x2="412.24" y2="396.15" stroke="#444" stroke-width="0.85"/>
<line x1="432.3" y1="393.85" x2="432.3" y2="396.15" stroke="#444" stroke-width="0.85"/>
<line x1="452.36" y1="393.85" x2="452.36" y2="396.15" stroke="#444" stroke-width="0.85"/>
<line x1="472.42" y1="393.85" x2="472.42" y2="396.15" stroke="#444" stroke-width="0.85"/>
<line x1="492.48" y1="393.85" x2="492.48" y2="396.15" stroke="#444" stroke-width="0.85"/>
<line x1="512.54" y1="393.85" x2="512.54" y2="396.15" stroke="#444" stroke-width="0.85"/>
<line x1="532.6" y1="393.85" x2="532.6" y2="396.15" stroke="#444" stroke-width="0.85"/>
<line x1="322.1" y1="344.9" x2="542.1" y2="344.9" stroke="#000" stroke-width="1.25" stroke-opacity="0.28"/>
<line x1="322.1" y1="344.9" x2="542.1" y2="344.9" stroke="#000" stroke-width="1.25" stroke-opacity="0.62" stroke-dasharray="1 1" stroke-dashoffset="0.1"/>
<text x="288.6" y="228.7" font-size="12.25" font-weight="bold" text-anchor="start">MOLM-14</text>
<text x="334.9" y="400.5" font-size="11.2" font-weight="bold" text-anchor="end" transform="rotate(-90 334.9 400.5)">UT</text>
<text x="355.76" y="400.5" font-size="11.2" font-weight="bold" text-anchor="end" transform="rotate(-90 355.76 400.5)">PHA</text>
<text x="375.82" y="400.5" font-size="11.2" font-weight="bold" text-anchor="end" transform="rotate(-90 375.82 400.5)">15,000 : 1</text>
<text x="395.88" y="400.5" font-size="11.2" font-weight="bold" text-anchor="end" transform="rotate(-90 395.88 400.5)">5000 : 1</text>
<text x="415.94" y="400.5" font-size="11.2" font-weight="bold" text-anchor="end" transform="rotate(-90 415.94 400.5)">1666 : 1</text>
<text x="436" y="400.5" font-size="11.2" font-weight="bold" text-anchor="end" transform="rotate(-90 436 400.5)">50 µl</text>
<text x="456.06" y="400.5" font-size="11.2" font-weight="bold" text-anchor="end" transform="rotate(-90 456.06 400.5)">16.7 µl</text>
<text x="476.12" y="400.5" font-size="11.2" font-weight="bold" text-anchor="end" transform="rotate(-90 476.12 400.5)">5.6 µl</text>
<text x="496.18" y="400.5" font-size="11.2" font-weight="bold" text-anchor="end" transform="rotate(-90 496.18 400.5)">1 : 1</text>
<text x="516.24" y="400.5" font-size="11.2" font-weight="bold" text-anchor="end" transform="rotate(-90 516.24 400.5)">1 : 3</text>
<text x="536.3" y="400.5" font-size="11.2" font-weight="bold" text-anchor="end" transform="rotate(-90 536.3 400.5)">1 : 9</text>
<line x1="352.6" y1="226.9" x2="393.8" y2="226.9" stroke="#333" stroke-width="0.85"/>
<text x="373.65" y="228.39" font-size="8.2" font-weight="bold" text-anchor="middle" letter-spacing="1.3" stroke-width="0.1">**</text>
<line x1="352.6" y1="231.5" x2="373" y2="231.5" stroke="#333" stroke-width="0.85"/>
<text x="363.65" y="233.89" font-size="8.2" font-weight="bold" text-anchor="middle" letter-spacing="1.3" stroke-width="0.1">**</text>
<line x1="372" y1="255.8" x2="492.7" y2="255.8" stroke="#333" stroke-width="0.85"/>
<text x="432.95" y="257.09" font-size="8.2" font-weight="bold" text-anchor="middle" letter-spacing="1.3" stroke-width="0.1">*</text>
<line x1="392.2" y1="260.4" x2="512.6" y2="260.4" stroke="#333" stroke-width="0.85"/>
<text x="453.45" y="262.99" font-size="8.2" font-weight="bold" text-anchor="middle" letter-spacing="1.3" stroke-width="0.1">**</text>
<line x1="412.3" y1="265.4" x2="532.8" y2="265.4" stroke="#333" stroke-width="0.85"/>
<text x="472.55" y="267.89" font-size="8.2" font-weight="bold" text-anchor="middle" letter-spacing="1.3" stroke-width="0.1">**</text>
<line x1="372.1" y1="274.4" x2="432.7" y2="274.4" stroke="#333" stroke-width="0.85"/>
<text x="402.65" y="275.89" font-size="8.2" font-weight="bold" text-anchor="middle" letter-spacing="1.3" stroke-width="0.1">*</text>
<line x1="324.9" y1="249.9" x2="338.4" y2="249.9" stroke="#111" stroke-width="1.6"/>
<circle cx="325.6" cy="249.8" r="1.25" fill="#000"/>
<circle cx="327.2" cy="249.2" r="1.25" fill="#000"/>
<circle cx="328.8" cy="248.6" r="1.25" fill="#000"/>
<circle cx="330.4" cy="248.3" r="1.25" fill="#000"/>
<circle cx="332" cy="248.4" r="1.25" fill="#000"/>
<circle cx="333.6" cy="248.6" r="1.25" fill="#000"/>
<circle cx="335.2" cy="249" r="1.25" fill="#000"/>
<circle cx="336.8" cy="249.6" r="1.25" fill="#000"/>
<circle cx="337.8" cy="250.2" r="1.25" fill="#000"/>
<circle cx="327.5" cy="250.6" r="1.25" fill="#000"/>
<circle cx="329.5" cy="251.2" r="1.25" fill="#000"/>
<circle cx="331" cy="252.4" r="1.25" fill="#000"/>
<circle cx="332.8" cy="251.8" r="1.25" fill="#000"/>
<circle cx="334.6" cy="251" r="1.25" fill="#000"/>
<circle cx="336.2" cy="250.8" r="1.25" fill="#000"/>
<line x1="346.5" y1="344.6" x2="357.6" y2="344.6" stroke="#111" stroke-width="2.1" stroke-linecap="round"/>
<line x1="372.12" y1="277.8" x2="372.12" y2="281.6" stroke="#111" stroke-width="0.95"/>
<line x1="368.82" y1="277.8" x2="375.42" y2="277.8" stroke="#111" stroke-width="0.95"/>
<line x1="372.12" y1="334.9" x2="372.12" y2="339.9" stroke="#111" stroke-width="0.95"/>
<line x1="368.82" y1="339.9" x2="375.42" y2="339.9" stroke="#111" stroke-width="0.95"/>
<rect x="365.22" y="281.6" width="13.8" height="53.3" fill="#fff" stroke="#111" stroke-width="0.8"/>
<line x1="365.22" y1="302.6" x2="379.02" y2="302.6" stroke="#222" stroke-width="0.75"/>
<circle cx="371.12" cy="277.5" r="1.35" fill="#000"/>
<circle cx="373.52" cy="278.3" r="1.35" fill="#000"/>
<circle cx="370.92" cy="290.1" r="1.35" fill="#000"/>
<circle cx="373.72" cy="288.3" r="1.35" fill="#000"/>
<circle cx="371.62" cy="314.2" r="1.35" fill="#000"/>
<circle cx="371.62" cy="331.5" r="1.35" fill="#000"/>
<circle cx="372.12" cy="339.9" r="1.35" fill="#000"/>
<line x1="392.18" y1="289.6" x2="392.18" y2="318.1" stroke="#111" stroke-width="0.95"/>
<line x1="388.88" y1="289.6" x2="395.48" y2="289.6" stroke="#111" stroke-width="0.95"/>
<rect x="385.28" y="318.1" width="13.8" height="20.5" fill="#fff" stroke="#111" stroke-width="0.8"/>
<line x1="385.28" y1="325.9" x2="399.08" y2="325.9" stroke="#222" stroke-width="0.75"/>
<circle cx="392.18" cy="289.6" r="1.35" fill="#000"/>
<circle cx="392.18" cy="316.6" r="1.35" fill="#000"/>
<circle cx="390.78" cy="319.4" r="1.35" fill="#000"/>
<circle cx="394.08" cy="321.3" r="1.35" fill="#000"/>
<circle cx="391.68" cy="325.9" r="1.35" fill="#000"/>
<circle cx="392.58" cy="331.5" r="1.35" fill="#000"/>
<circle cx="389.78" cy="339.3" r="1.35" fill="#000"/>
<circle cx="392.58" cy="340.3" r="1.35" fill="#000"/>
<circle cx="394.48" cy="339.3" r="1.35" fill="#000"/>
<line x1="412.24" y1="333" x2="412.24" y2="334.3" stroke="#111" stroke-width="0.95"/>
<line x1="408.94" y1="333" x2="415.54" y2="333" stroke="#111" stroke-width="0.95"/>
<line x1="412.24" y1="344.6" x2="412.24" y2="348.8" stroke="#111" stroke-width="0.95"/>
<line x1="408.94" y1="348.8" x2="415.54" y2="348.8" stroke="#111" stroke-width="0.95"/>
<rect x="405.34" y="334.3" width="13.8" height="10.3" fill="#fff" stroke="#111" stroke-width="0.8"/>
<line x1="405.34" y1="341.4" x2="419.14" y2="341.4" stroke="#222" stroke-width="0.75"/>
<circle cx="409.24" cy="333.9" r="1.35" fill="#000"/>
<circle cx="412.04" cy="335.2" r="1.35" fill="#000"/>
<circle cx="414.84" cy="333.4" r="1.35" fill="#000"/>
<circle cx="410.14" cy="340.8" r="1.35" fill="#000"/>
<circle cx="414.24" cy="340.5" r="1.35" fill="#000"/>
<circle cx="408.64" cy="343.3" r="1.35" fill="#000"/>
<circle cx="412.54" cy="342.7" r="1.35" fill="#000"/>
<circle cx="415.24" cy="344.6" r="1.35" fill="#000"/>
<circle cx="412.24" cy="348.8" r="1.35" fill="#000"/>
<rect x="425.4" y="339.3" width="13.8" height="38.2" fill="#fff" stroke="#111" stroke-width="0.8"/>
<line x1="425.4" y1="345.4" x2="439.2" y2="345.4" stroke="#222" stroke-width="0.75"/>
<circle cx="431.1" cy="338.8" r="1.35" fill="#000"/>
<circle cx="433.7" cy="339.6" r="1.35" fill="#000"/>
<circle cx="430.5" cy="342.3" r="1.35" fill="#000"/>
<circle cx="432.3" cy="348.6" r="1.35" fill="#000"/>
<circle cx="431.1" cy="377.5" r="1.35" fill="#000"/>
<circle cx="433.7" cy="377.5" r="1.35" fill="#000"/>
<line x1="452.36" y1="339.8" x2="452.36" y2="342.5" stroke="#111" stroke-width="0.95"/>
<line x1="449.06" y1="339.8" x2="455.66" y2="339.8" stroke="#111" stroke-width="0.95"/>
<line x1="452.36" y1="368.2" x2="452.36" y2="384.9" stroke="#111" stroke-width="0.95"/>
<line x1="449.06" y1="384.9" x2="455.66" y2="384.9" stroke="#111" stroke-width="0.95"/>
<rect x="445.46" y="342.5" width="13.8" height="25.7" fill="#fff" stroke="#111" stroke-width="0.8"/>
<line x1="445.46" y1="347.2" x2="459.26" y2="347.2" stroke="#222" stroke-width="0.75"/>
<circle cx="452.36" cy="339.8" r="1.35" fill="#000"/>
<circle cx="450.86" cy="343.3" r="1.35" fill="#000"/>
<circle cx="453.86" cy="343.3" r="1.35" fill="#000"/>
<circle cx="452.36" cy="351.6" r="1.35" fill="#000"/>
<circle cx="452.36" cy="363" r="1.35" fill="#000"/>
<circle cx="452.36" cy="384.9" r="1.35" fill="#000"/>
<line x1="472.42" y1="331.9" x2="472.42" y2="337.5" stroke="#111" stroke-width="0.95"/>
<line x1="469.12" y1="331.9" x2="475.72" y2="331.9" stroke="#111" stroke-width="0.95"/>
<line x1="472.42" y1="363" x2="472.42" y2="386.7" stroke="#111" stroke-width="0.95"/>
<line x1="469.12" y1="386.7" x2="475.72" y2="386.7" stroke="#111" stroke-width="0.95"/>
<rect x="465.52" y="337.5" width="13.8" height="25.5" fill="#fff" stroke="#111" stroke-width="0.8"/>
<line x1="465.52" y1="347.5" x2="479.32" y2="347.5" stroke="#222" stroke-width="0.75"/>
<circle cx="472.42" cy="331.9" r="1.35" fill="#000"/>
<circle cx="472.42" cy="339.8" r="1.35" fill="#000"/>
<circle cx="472.42" cy="344.6" r="1.35" fill="#000"/>
<circle cx="472.42" cy="350.2" r="1.35" fill="#000"/>
<circle cx="472.42" cy="355.4" r="1.35" fill="#000"/>
<circle cx="472.42" cy="386.7" r="1.35" fill="#000"/>
<line x1="492.48" y1="295" x2="492.48" y2="327.8" stroke="#111" stroke-width="0.95"/>
<line x1="489.18" y1="295" x2="495.78" y2="295" stroke="#111" stroke-width="0.95"/>
<line x1="492.48" y1="347.2" x2="492.48" y2="356.4" stroke="#111" stroke-width="0.95"/>
<line x1="489.18" y1="356.4" x2="495.78" y2="356.4" stroke="#111" stroke-width="0.95"/>
<rect x="485.58" y="327.8" width="13.8" height="19.4" fill="#fff" stroke="#111" stroke-width="0.8"/>
<line x1="485.58" y1="344.9" x2="499.38" y2="344.9" stroke="#222" stroke-width="0.75"/>
<circle cx="492.48" cy="295" r="1.35" fill="#000"/>
<circle cx="492.48" cy="327.8" r="1.35" fill="#000"/>
<circle cx="492.48" cy="337.6" r="1.35" fill="#000"/>
<circle cx="489.58" cy="345" r="1.35" fill="#000"/>
<circle cx="495.28" cy="345" r="1.35" fill="#000"/>
<circle cx="492.48" cy="347.9" r="1.35" fill="#000"/>
<circle cx="492.48" cy="356.4" r="1.35" fill="#000"/>
<line x1="512.54" y1="321.3" x2="512.54" y2="349.2" stroke="#111" stroke-width="0.95"/>
<line x1="509.24" y1="321.3" x2="515.84" y2="321.3" stroke="#111" stroke-width="0.95"/>
<line x1="512.54" y1="356.2" x2="512.54" y2="387.4" stroke="#111" stroke-width="0.95"/>
<line x1="509.24" y1="387.4" x2="515.84" y2="387.4" stroke="#111" stroke-width="0.95"/>
<rect x="505.64" y="349.2" width="13.8" height="7" fill="#fff" stroke="#111" stroke-width="0.8"/>
<line x1="505.64" y1="353.2" x2="519.44" y2="353.2" stroke="#222" stroke-width="0.75"/>
<circle cx="512.54" cy="321.3" r="1.35" fill="#000"/>
<circle cx="512.54" cy="349.5" r="1.35" fill="#000"/>
<circle cx="509.64" cy="353.2" r="1.35" fill="#000"/>
<circle cx="512.24" cy="353.5" r="1.35" fill="#000"/>
<circle cx="515.14" cy="353.2" r="1.35" fill="#000"/>
<circle cx="512.54" cy="356.8" r="1.35" fill="#000"/>
<circle cx="512.54" cy="387.4" r="1.35" fill="#000"/>
<line x1="532.6" y1="354.2" x2="532.6" y2="372.5" stroke="#111" stroke-width="0.95"/>
<line x1="529.3" y1="372.5" x2="535.9" y2="372.5" stroke="#111" stroke-width="0.95"/>
<rect x="525.7" y="349.5" width="13.8" height="4.7" fill="#fff" stroke="#111" stroke-width="0.8"/>
<line x1="525.7" y1="351.6" x2="539.5" y2="351.6" stroke="#222" stroke-width="0.75"/>
<circle cx="528.1" cy="350" r="1.35" fill="#000"/>
<circle cx="530.4" cy="349.8" r="1.35" fill="#000"/>
<circle cx="532.6" cy="350.2" r="1.35" fill="#000"/>
<circle cx="534.8" cy="349.8" r="1.35" fill="#000"/>
<circle cx="537.1" cy="350" r="1.35" fill="#000"/>
<circle cx="532.6" cy="353.8" r="1.35" fill="#000"/>
<circle cx="532.6" cy="372.5" r="1.35" fill="#000"/>
</g>
</svg></body></html>
